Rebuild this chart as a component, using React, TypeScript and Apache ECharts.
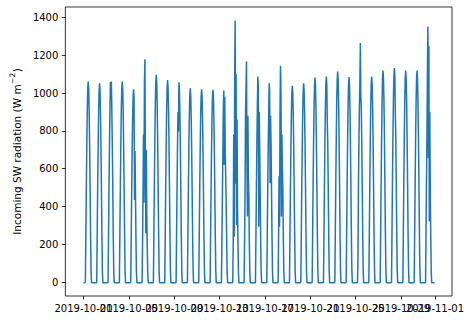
import React, { useEffect, useRef } from "react";
import * as echarts from "echarts";

// Hourly incoming shortwave radiation (W m^-2), October 2019 (UTC).
// Each row = one day, values for hours 04:00 .. 16:00; other hours are night.
const START_DATE = "2019-10-01";
const FIRST_DAYTIME_HOUR = 4;
const NIGHT_VALUE = -4;

const daytimeValues: number[][] = [
  [0, 249, 495, 721, 904, 1021, 1061, 1021, 904, 721, 495, 249, 64],
  [0, 247, 491, 715, 896, 1012, 1052, 1012, 896, 715, 491, 247, 63],
  [0, 249, 495, 721, 904, 1058, 1000, 1061, 904, 721, 495, 249, 64],
  [0, 249, 495, 721, 904, 1021, 1061, 1021, 904, 721, 495, 249, 64],
  [0, 239, 476, 693, 868, 980, 1019, 980, 434, 693, 476, 239, 61],
  [0, 200, 470, 780, 420, 1060, 1179, 650, 258, 700, 350, 180, 50],
  [0, 258, 512, 745, 934, 1054, 1096, 1054, 934, 745, 512, 258, 66],
  [0, 251, 499, 726, 910, 1027, 1068, 1027, 910, 726, 499, 251, 64],
  [0, 248, 494, 719, 900, 796, 1057, 1017, 900, 719, 494, 248, 63],
  [0, 241, 479, 697, 873, 986, 1025, 986, 873, 697, 479, 241, 62],
  [0, 240, 476, 694, 869, 981, 1020, 981, 869, 694, 476, 240, 61],
  [0, 239, 475, 692, 866, 978, 1017, 978, 866, 692, 475, 239, 61],
  [0, 230, 460, 670, 930, 1013, 620, 980, 700, 560, 420, 230, 60],
  [0, 240, 780, 240, 1060, 1384, 520, 1100, 300, 860, 400, 200, 50],
  [0, 230, 470, 900, 1020, 1167, 620, 346, 880, 560, 450, 220, 55],
  [0, 240, 490, 730, 920, 1087, 1040, 293, 900, 700, 480, 240, 60],
  [0, 245, 490, 715, 876, 1052, 1010, 523, 880, 715, 490, 245, 63],
  [0, 260, 560, 293, 900, 1144, 1000, 346, 780, 600, 480, 240, 60],
  [0, 244, 485, 706, 884, 999, 1038, 999, 884, 706, 485, 244, 62],
  [0, 247, 491, 715, 896, 1012, 1052, 1012, 896, 715, 491, 247, 63],
  [0, 254, 505, 736, 922, 1041, 1082, 1041, 922, 736, 505, 254, 65],
  [0, 255, 508, 739, 926, 1046, 1087, 1046, 842, 739, 508, 255, 65],
  [0, 262, 520, 758, 949, 1072, 1114, 1072, 949, 758, 520, 262, 67],
  [0, 255, 506, 737, 924, 1043, 1084, 1043, 924, 737, 506, 255, 65],
  [0, 134, 508, 739, 926, 1046, 1264, 980, 926, 739, 508, 255, 65],
  [0, 255, 508, 739, 926, 1046, 1087, 1046, 926, 739, 508, 255, 65],
  [0, 263, 523, 761, 953, 1076, 1119, 1076, 953, 761, 523, 263, 67],
  [0, 266, 529, 770, 964, 1089, 1132, 1089, 900, 770, 529, 266, 68],
  [0, 263, 523, 761, 953, 1076, 1119, 1076, 953, 761, 523, 263, 67],
  [0, 263, 523, 761, 953, 1076, 1119, 1076, 953, 761, 523, 263, 67],
  [0, 260, 540, 780, 1100, 1352, 656, 1250, 320, 900, 500, 250, 60],
];

const xTickDates = [
  "2019-10-01",
  "2019-10-05",
  "2019-10-09",
  "2019-10-13",
  "2019-10-17",
  "2019-10-21",
  "2019-10-25",
  "2019-10-29",
  "2019-11-01",
];
const yTicks = [0, 200, 400, 600, 800, 1000, 1200, 1400];
const yAxisTitleMain = "Incoming SW radiation (W m";
const yAxisTitleExp = "\u22122";
const yAxisTitleEnd = ")";

const HOUR_MS = 3600 * 1000;
const DAY_MS = 24 * HOUR_MS;

function buildPoints(): [number, number][] {
  const start = Date.parse(START_DATE);
  const pts: [number, number][] = [];
  daytimeValues.forEach((day, d) => {
    for (let h = 0; h < 24; h++) {
      const idx = h - FIRST_DAYTIME_HOUR;
      const v = idx >= 0 && idx < day.length ? day[idx] : NIGHT_VALUE;
      pts.push([start + d * DAY_MS + h * HOUR_MS, v]);
    }
  });
  pts.push([start + daytimeValues.length * DAY_MS, NIGHT_VALUE]);
  return pts;
}

const pad = (n: number) => (n < 10 ? "0" + n : "" + n);
const fmtDate = (v: number) => {
  const d = new Date(v);
  return `${d.getUTCFullYear()}-${pad(d.getUTCMonth() + 1)}-${pad(d.getUTCDate())}`;
};

export default function App() {
  const ref = useRef<HTMLDivElement>(null);
  useEffect(() => {
    if (!ref.current) return;
    const chart = echarts.init(ref.current, undefined, { renderer: "svg" });
    const start = Date.parse(START_DATE);
    const xTicks = xTickDates.map((s) => Date.parse(s));
    // matplotlib draws every tick label even where they overlap; two axes on the
    // same scale carry alternate labels so that none is dropped.
    const evenTicks = xTicks.filter((_, i) => i % 2 === 0);
    const oddTicks = xTicks.filter((_, i) => i % 2 === 1);
    const font = "DejaVu Sans";
    const xMin = start - 1.6 * DAY_MS;
    const xMax = start + 32.5 * DAY_MS;
    const makeX = (labels: number[], ticks: boolean) => ({
      type: "value",
      min: xMin,
      max: xMax,
      position: "bottom",
      axisLine: { show: false, onZero: false },
      axisTick: {
        show: ticks,
        length: 3.5,
        customValues: xTicks,
        lineStyle: { color: "#000", width: 0.8 },
      },
      axisLabel: {
        customValues: labels,
        formatter: (v: number) => fmtDate(v),
        hideOverlap: false,
        margin: 7,
        color: "#000",
        fontSize: 10,
        fontFamily: font,
      },
      splitLine: { show: false },
    });
    chart.setOption({
      animation: false,
      backgroundColor: "#ffffff",
      grid: {
        left: 64,
        right: 22,
        top: 7,
        bottom: 27,
        show: true,
        borderColor: "#000",
        borderWidth: 0.8,
        backgroundColor: "transparent",
      },
      xAxis: [makeX(evenTicks, true), makeX(oddTicks, false)],
      yAxis: {
        type: "value",
        min: -74,
        max: 1455,
        name: `{b|${yAxisTitleMain}}{s|${yAxisTitleExp}}{b|${yAxisTitleEnd}}`,
        nameLocation: "middle",
        nameGap: 40,
        nameTextStyle: {
          color: "#000",
          fontSize: 10,
          fontFamily: font,
          rich: {
            b: { fontSize: 10.5, fontFamily: font, color: "#000", lineHeight: 14, verticalAlign: "bottom" },
            s: { fontSize: 7.5, fontFamily: font, color: "#000", lineHeight: 14, verticalAlign: "top", padding: [0, 0.5, 0, 0.5] },
          },
        },
        axisLine: { show: false },
        axisTick: {
          show: true,
          length: 3.5,
          customValues: yTicks,
          lineStyle: { color: "#000", width: 0.8 },
        },
        axisLabel: {
          customValues: yTicks,
          formatter: (v: number) => String(v),
          margin: 7,
          color: "#000",
          fontSize: 10,
          fontFamily: font,
        },
        splitLine: { show: false },
      },
      series: [
        {
          type: "line",
          xAxisIndex: 0,
          data: buildPoints(),
          showSymbol: false,
          symbol: "none",
          lineStyle: { color: "#1f77b4", width: 1.5 },
          itemStyle: { color: "#1f77b4" },
        },
      ],
    });
    return () => chart.dispose();
  }, []);
  return (
    <div
      ref={ref}
      style={{ position: "fixed", left: 0, top: 0, width: 474, height: 323, background: "#fff" }}
    />
  );
}
